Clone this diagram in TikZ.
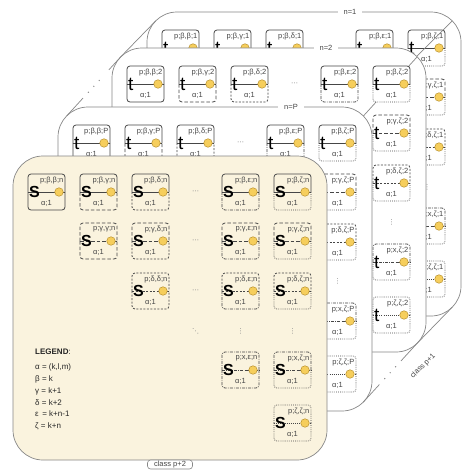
\documentclass[tikz,border=0pt]{standalone}
\usepackage{fontspec}
\setmainfont{Liberation Sans}
\newfontfamily\dotsfont{DejaVu Sans}
\usetikzlibrary{calc}
\definecolor{paper}{RGB}{250,243,222}
\definecolor{frame}{RGB}{135,135,135}
\definecolor{ink}{RGB}{70,70,70}
\definecolor{bulb}{RGB}{246,206,92}
\definecolor{bulbedge}{RGB}{185,145,45}

\newcommand{\cellS}{{\fontsize{16}{16}\selectfont\bfseries S}}
\newcommand{\cellT}{{\fontsize{19}{19}\selectfont t}}
% one cell: name, x, y, upper style, lower style, fill, letter, label
\newcommand{\cell}[8]{%
  \node[cellbox, fill=#6] (#1) at (#2,#3) {};
  \draw[cellline, #5] (#1.west) |- (#1.south) -| (#1.east);
  \draw[cellline, #4] (#1.west) |- (#1.north) -| (#1.east);
  \draw[cellline, #4] (#1.west) -- (#1.east);
  \node[bigletter, anchor=west] (#1-l) at ([xshift=1pt]#1.west) {#7};
  \node[knob] (#1-o) at ([xshift=-6pt]#1.east) {};
  \node[celltext, anchor=east] (#1-t) at ([xshift=-1.5pt,yshift=-6.5pt]#1.north east) {#8};
  \node[celltext] (#1-a) at ([yshift=6.5pt]#1.south) {α;1};
}

\begin{document}
\begin{tikzpicture}[x=1pt, y=-1pt, font=\fontsize{7.5}{8}\selectfont]
\tikzset{panel/.style={draw=frame, line width=0.7pt, rounded corners=30pt,
                       minimum width=314pt, minimum height=304pt,
                       inner sep=0pt, outer sep=0pt},
         cellbox/.style={rectangle, minimum width=37pt, minimum height=36pt,
                         inner sep=0pt, outer sep=0pt, rounded corners=3pt},
         cellline/.style={draw=ink, line width=0.8pt, rounded corners=3pt},
         lb/.style={solid},
         lg/.style={dash pattern=on 3.5pt off 2pt},
         ld/.style={dash pattern=on 2pt off 1.5pt},
         le/.style={dash pattern=on 3pt off 1.2pt on 0.7pt off 1.2pt},
         lz/.style={dash pattern=on 0.8pt off 1.3pt},
         bigletter/.style={inner sep=0pt, text=black},
         knob/.style={circle, draw=bulbedge, fill=bulb, line width=0.5pt,
                      minimum size=8.5pt, inner sep=0pt},
         celltext/.style={inner sep=0pt, text=ink},
         nlabel/.style={fill=white, inner xsep=6pt, inner ysep=1pt, text=ink,
                        font=\fontsize{7.5}{8}\selectfont},
         hull/.style={draw=frame, line width=0.7pt},
         dotsmark/.style={inner sep=0pt, text=frame, font=\dotsfont\fontsize{7}{7}\selectfont},
         classlab/.style={inner sep=0pt, text=ink, font=\fontsize{7.5}{8}\selectfont},
         classtab/.style={draw=frame, fill=white, line width=0.6pt, rounded corners=3pt,
                          minimum width=45pt, minimum height=9pt, inner sep=0pt,
                          text=ink, font=\fontsize{7.5}{8}\selectfont}}

\fill[white] (0,0) rectangle (474,474);
\useasboundingbox (0,0) rectangle (474,474);

% n=1
\node[panel, fill=white] (pan1) at (304,164) {};
\node[nlabel] (lab1) at (350,12) {n=1};
\cell{t1-bb}{180.5}{48}{lb}{lb}{white}{\cellT}{p;β,β;1}
\cell{t1-bg}{232.5}{48}{lb}{lg}{white}{\cellT}{p;β,γ;1}
\cell{t1-bd}{284.5}{48}{lb}{ld}{white}{\cellT}{p;β,δ;1}
\cell{t1-be}{374.5}{48}{lb}{le}{white}{\cellT}{p;β,ε;1}
\cell{t1-bz}{426.5}{48}{lb}{lz}{white}{\cellT}{p;β,ζ;1}
\cell{t1-gz}{426.5}{97}{lg}{lz}{white}{\cellT}{p;γ,ζ;1}
\cell{t1-dz}{426.5}{147}{ld}{lz}{white}{\cellT}{p;δ,ζ;1}
\cell{t1-ez}{426.5}{226}{le}{lz}{white}{\cellT}{p;x,ζ;1}
\cell{t1-zz}{426.5}{279}{lz}{lz}{white}{\cellT}{p;ζ,ζ;1}
\node[dotsmark] (t1-dv) at (427,187) {⋮};
\draw[hull] ($(pan1.north east)+(-8.8,8.8)$) -- ++(-40,40);

% n=2
\node[panel, fill=white] (pan2) at (269,200) {};
\node[nlabel] (lab2) at (326,48) {n=2};
\draw[hull] ($(pan2.north east)+(-8.8,8.8)$) -- ++(-60,66);
\cell{t2-bb}{145.5}{84}{lb}{lb}{white}{\cellT}{p;β,β;2}
\cell{t2-bg}{197.5}{84}{lb}{lg}{white}{\cellT}{p;β,γ;2}
\cell{t2-bd}{249.5}{84}{lb}{ld}{white}{\cellT}{p;β,δ;2}
\cell{t2-be}{339.5}{84}{lb}{le}{white}{\cellT}{p;β,ε;2}
\cell{t2-bz}{391.5}{84}{lb}{lz}{white}{\cellT}{p;β,ζ;2}
\cell{t2-gz}{391.5}{133}{lg}{lz}{white}{\cellT}{p;γ,ζ;2}
\cell{t2-dz}{391.5}{183}{ld}{lz}{white}{\cellT}{p;δ,ζ;2}
\cell{t2-ez}{391.5}{262}{le}{lz}{white}{\cellT}{p;x,ζ;2}
\cell{t2-zz}{391.5}{315}{lz}{lz}{white}{\cellT}{p;ζ,ζ;2}
\node[dotsmark] (t2-dh) at (294.5,84) {⋯};
\node[dotsmark] (t2-dv) at (391.5,222) {⋮};

% n=P
\node[panel, fill=white] (panP) at (215,259) {};
\node[nlabel] (labP) at (291,107) {n=P};
\cell{tP-bb}{91.5}{143}{lb}{lb}{white}{\cellT}{p;β,β;P}
\cell{tP-bg}{143.5}{143}{lb}{lg}{white}{\cellT}{p;β,γ;P}
\cell{tP-bd}{195.5}{143}{lb}{ld}{white}{\cellT}{p;β,δ;P}
\cell{tP-be}{285.5}{143}{lb}{le}{white}{\cellT}{p;β,ε;P}
\cell{tP-bz}{337.5}{143}{lb}{lz}{white}{\cellT}{p;β,ζ;P}
\cell{tP-gz}{337.5}{192}{lg}{lz}{white}{\cellT}{p;γ,ζ;P}
\cell{tP-dz}{337.5}{242}{ld}{lz}{white}{\cellT}{p;δ,ζ;P}
\cell{tP-ez}{337.5}{321}{le}{lz}{white}{\cellT}{p;x,ζ;P}
\cell{tP-zz}{337.5}{374}{lz}{lz}{white}{\cellT}{p;ζ,ζ;P}
\node[dotsmark] (tP-dh) at (240.5,143) {⋯};
\node[dotsmark] (tP-dv) at (337.5,281) {⋮};

% stack edges of class p+1
\coordinate (tl1) at ($(pan1.north west)+(8.8,8.8)$);
\coordinate (tl2) at ($(pan2.north west)+(8.8,8.8)$);
\coordinate (tlP) at ($(panP.north west)+(8.8,8.8)$);
\coordinate (br1) at ($(pan1.south east)+(-8.8,-8.8)$);
\coordinate (br2) at ($(pan2.south east)+(-8.8,-8.8)$);
\coordinate (brP) at ($(panP.south east)+(-8.8,-8.8)$);
\draw[hull] (tl1) -- (tl2) -- ($(tl2)!0.22!(tlP)$);
\draw[hull] ($(tl2)!0.7!(tlP)$) -- (tlP);
\draw[hull] (br1) -- (br2) -- ($(br2)!0.3!(brP)$);
\draw[hull] ($(br2)!0.7!(brP)$) -- (brP);
\foreach \t in {0.4,0.5,0.6} {
  \fill[frame] ($(tl2)!\t!(tlP)$) circle (0.7);
  \fill[frame] ($(br2)!\t!(brP)$) circle (0.7);
}
\node[classlab, rotate=45] (cls1) at (423,366) {class p+1};

% class p+2
\node[panel, fill=paper] (front) at (170,308) {};
\cell{s-bb}{46.5}{192}{lb}{lb}{paper}{\cellS}{p;β,β;n}
\cell{s-bg}{98.5}{192}{lb}{lg}{paper}{\cellS}{p;β,γ;n}
\cell{s-bd}{150.5}{192}{lb}{ld}{paper}{\cellS}{p;β,δ;n}
\cell{s-be}{240.5}{192}{lb}{le}{paper}{\cellS}{p;β,ε;n}
\cell{s-bz}{292.5}{192}{lb}{lz}{paper}{\cellS}{p;β,ζ;n}
\cell{s-gg}{98.5}{241}{lg}{lg}{paper}{\cellS}{p;γ,γ;n}
\cell{s-gd}{150.5}{241}{lg}{ld}{paper}{\cellS}{p;γ,δ;n}
\cell{s-ge}{240.5}{241}{lg}{le}{paper}{\cellS}{p;γ,ε;n}
\cell{s-gz}{292.5}{241}{lg}{lz}{paper}{\cellS}{p;γ,ζ;n}
\cell{s-dd}{150.5}{291}{ld}{ld}{paper}{\cellS}{p;δ,δ;n}
\cell{s-de}{240.5}{291}{ld}{le}{paper}{\cellS}{p;δ,ε;n}
\cell{s-dz}{292.5}{291}{ld}{lz}{paper}{\cellS}{p;δ,ζ;n}
\cell{s-ee}{240.5}{370}{le}{le}{paper}{\cellS}{p;x,ε;n}
\cell{s-ez}{292.5}{370}{le}{lz}{paper}{\cellS}{p;x,ζ;n}
\cell{s-zz}{292.5}{423}{lz}{lz}{paper}{\cellS}{p;ζ,ζ;n}
\node[dotsmark] (s-dh1) at (195.5,192) {⋯};
\node[dotsmark] (s-dh2) at (195.5,241) {⋯};
\node[dotsmark] (s-dh3) at (195.5,291) {⋯};
\node[dotsmark] (s-dd) at (195.5,331) {⋱};
\node[dotsmark] (s-dv4) at (240.5,331) {⋮};
\node[dotsmark] (s-dv5) at (292.5,331) {⋮};

\node[anchor=north west, inner sep=0pt, align=left, text=black!85,
      font=\fontsize{8}{11.75}\selectfont] (legend) at (35,349)
  {\textbf{LEGEND}:\\[3.25pt]
   α = (k,l,m)\\
   β = k\\
   γ = k+1\\
   δ = k+2\\
   ε \,= k+n-1\\
   ζ = k+n};

\node[classtab] (tab2) at (170,464.5) {class p+2};
\end{tikzpicture}
\end{document}
